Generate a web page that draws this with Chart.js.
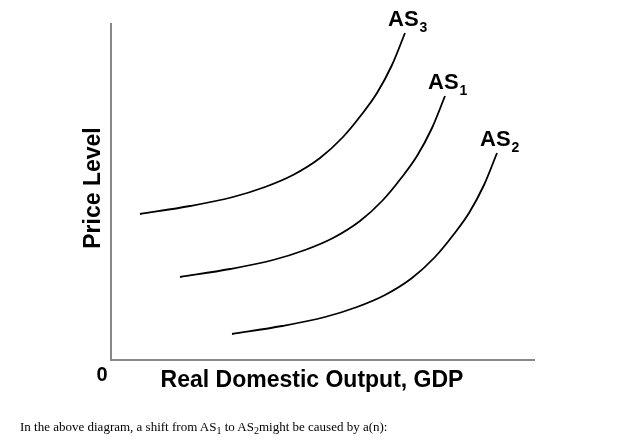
<!DOCTYPE html>
<html>
<head>
<meta charset="utf-8">
<script src="https://cdn.jsdelivr.net/npm/chart.js@4"></script>
<style>
    html, body { margin: 0; padding: 0; background: #fff; }
    #wrap { position: relative; width: 622px; height: 447px; }
    #caption {
        position: absolute; left: 20px; top: 419px;
        font-family: "Liberation Serif", "Times New Roman", serif;
        font-size: 13px; color: #000; white-space: nowrap;
    }
    #caption sub { font-size: 10px; vertical-align: -3px; }
</style>
</head>
<body>
<div id="wrap">
    <canvas id="asChart" width="622" height="447"></canvas>
    <div id="caption">In the above diagram, a shift from AS<sub>1</sub> to AS<sub>2</sub>might be caused by a(n):</div>
</div>
<script>
// curve points (output, price level)
const as3X = [29, 79, 122, 154, 182, 209, 232, 251, 266, 281, 294];
const as3Y = [146, 154, 163, 173, 185, 202, 223, 246, 267, 295, 327];
const as1X = [69, 119, 162, 194, 222, 249, 272, 291, 306, 321, 334];
const as1Y = [83, 91, 100, 110, 122, 139, 160, 183, 204, 232, 264];
const as2X = [121, 171, 214, 246, 274, 301, 324, 343, 358, 373, 386];
const as2Y = [26, 34, 43, 53, 65, 82, 103, 126, 147, 175, 207];
const curveNames = ['3', '1', '2'];

function toPoints(xs, ys) {
    return xs.map((x, i) => ({ x: x, y: ys[i] }));
}

function curve(xs, ys, sub) {
    return {
        label: 'AS' + sub,
        sub: sub,
        data: toPoints(xs, ys),
        borderColor: '#000',
        borderWidth: 1.8,
        pointRadius: 0,
        fill: false,
        cubicInterpolationMode: 'monotone',
    };
}

const SANS = '"Liberation Sans", Arial, sans-serif';

// Curve labels + axis titles
const annotate = {
    id: 'annotate',
    afterDatasetsDraw(chart) {
        const ctx = chart.ctx;
        const xs = chart.scales.x, ys = chart.scales.y;
        ctx.save();
        ctx.fillStyle = '#000';
        ctx.textBaseline = 'alphabetic';
        chart.data.datasets.forEach(ds => {
            const last = ds.data[ds.data.length - 1];
            const px = xs.getPixelForValue(last.x) - 17;
            const py = ys.getPixelForValue(last.y) - 7;
            ctx.font = 'bold 22px ' + SANS;
            ctx.textAlign = 'left';
            ctx.fillText('AS', px, py);
            const w = ctx.measureText('AS').width;
            ctx.font = 'bold 14px ' + SANS;
            ctx.fillText(ds.sub, px + w + 1, py + 6);
        });

        ctx.font = 'bold 23px ' + SANS;
        ctx.textAlign = 'center';
        ctx.fillText('Real Domestic Output, GDP', 312, 387);
        ctx.font = 'bold 20px ' + SANS;
        ctx.fillText('0', 102, 381);

        ctx.translate(100, 188);
        ctx.rotate(-Math.PI / 2);
        ctx.font = 'bold 23px ' + SANS;
        ctx.fillText('Price Level', 0, 0);
        ctx.restore();
    },
};

document.addEventListener('DOMContentLoaded', function () {
    const el = document.getElementById('asChart');
    new Chart(el, {
        type: 'line',
        data: {
            datasets: [
                curve(as3X, as3Y, curveNames[0]),
                curve(as1X, as1Y, curveNames[1]),
                curve(as2X, as2Y, curveNames[2]),
            ],
        },
        options: {
            responsive: false,
            animation: false,
            layout: { padding: { left: 111, top: 24, right: 88, bottom: 87 } },
            plugins: { legend: { display: false }, tooltip: { enabled: false } },
            scales: {
                x: {
                    type: 'linear', min: 0, max: 423,
                    grid: { display: false, drawTicks: false },
                    ticks: { display: false },
                    border: { display: true, color: '#888', width: 2 },
                },
                y: {
                    type: 'linear', min: 0, max: 336,
                    grid: { display: false, drawTicks: false },
                    ticks: { display: false },
                    border: { display: true, color: '#888', width: 2 },
                },
            },
        },
        plugins: [annotate],
    });
});
</script>
</body>
</html>
